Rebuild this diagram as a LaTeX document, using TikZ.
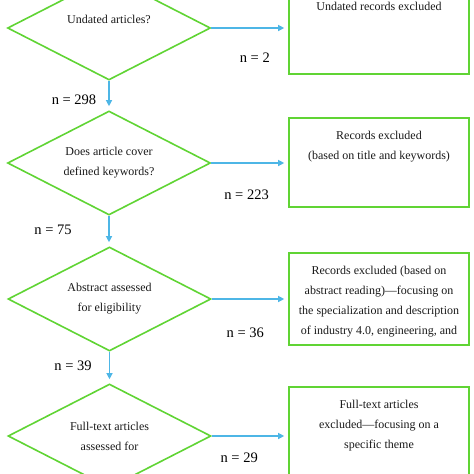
\documentclass[tikz,border=0pt]{standalone}
\usepackage{fontspec}
\setmainfont{Liberation Serif}
\usetikzlibrary{shapes.geometric,arrows.meta}
\definecolor{flowgreen}{RGB}{96,212,52}
\definecolor{flowblue}{RGB}{77,182,230}
\begin{document}
\begin{tikzpicture}[x=1pt,y=-1pt,
 dia/.style={diamond, draw=flowgreen, line width=1.6pt, minimum width=203pt, minimum height=104pt, inner sep=0pt},
 boxnode/.style={rectangle, draw=flowgreen, line width=1.6pt, minimum width=180pt, inner sep=0pt},
 txt/.style={font=\fontsize{12}{20}\selectfont, align=center, inner sep=0pt, text=black!90},
 cnt/.style={font=\fontsize{14.5}{17}\selectfont, inner sep=0pt},
 arr/.style={draw=flowblue, line width=1.2pt, shorten >=4pt, -{Triangle[length=6pt,width=6pt]}}]
\useasboundingbox (0,0) rectangle (474,474);
\clip (0,0) rectangle (474,474);
% decisions
\node[dia] (d1) at (109,28) {};
\node[dia] (d2) at (109,163) {};
\node[dia] (d3) at (109.5,299) {};
\node[dia] (d4) at (109.5,436) {};
% boxes
\node[boxnode, minimum height=87pt] (b1) at (379,30.5) {};
\node[boxnode, minimum height=89pt] (b2) at (379,162.5) {};
\node[boxnode, minimum height=92pt] (b3) at (379,299) {};
\node[boxnode, minimum height=93pt] (b4) at (379,433.5) {};
% diamond texts
\node[txt] (t1) at ([yshift=9pt]d1.center) {Undated articles?};
\node[txt] (t2) at (d2.center) {Does article cover\\defined keywords?};
\node[txt] (t3) at (d3.center) {Abstract assessed\\for eligibility};
\node[txt] (t4) at (d4.center) {Full-text articles\\assessed for};
% box texts
\node[txt, anchor=north] (u1) at ([yshift=-15.5pt]b1.north) {Undated records excluded};
\node[txt, anchor=north] (u2) at ([yshift=-14pt]b2.north) {Records excluded\\(based on title and keywords)};
\node[txt, anchor=north] (u3) at ([yshift=-14pt]b3.north) {Records excluded (based on\\abstract reading)---focusing on\\the specialization and description\\of industry 4.0, engineering, and};
\node[txt, anchor=north] (u4) at ([yshift=-14pt]b4.north) {Full-text articles\\excluded---focusing on a\\specific theme};
% connectors
\draw[arr] (d1.south) -- (d2.north);
\draw[arr] (d2.south) -- (d2.south |- d3.north);
\draw[arr] (d3.south) -- (d4.north);
\draw[arr] (d1.east) -- (d1.east -| b1.west);
\draw[arr] (d2.east) -- (d2.east -| b2.west);
\draw[arr] (d3.east) -- (d3.east -| b3.west);
\draw[arr] (d4.east) -- (d4.east -| b4.west);
% counts
\node[cnt] (n1) at (74,100) {n = 298};
\node[cnt] (n2) at (53,230) {n = 75};
\node[cnt] (n3) at (73,366) {n = 39};
\node[cnt, anchor=east] (m1) at (270,58) {n = 2};
\node[cnt, anchor=east] (m2) at (269,195) {n = 223};
\node[cnt, anchor=east] (m3) at (264,333) {n = 36};
\node[cnt, anchor=east] (m4) at (258,458) {n = 29};
\end{tikzpicture}
\end{document}
